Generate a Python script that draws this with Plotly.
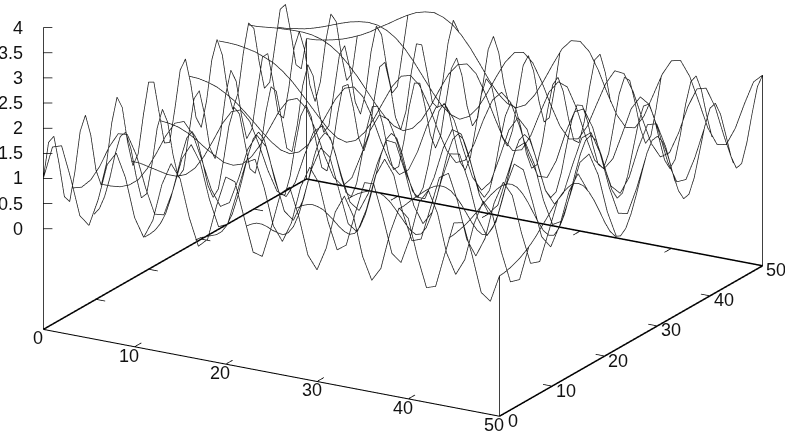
import plotly.graph_objects as go

# Sample positions along each iso-line
SAMPLES = list(range(0, 51))
# Positions of the ten iso-lines on the other axis
ISO = [0, 5.556, 11.11, 16.67, 22.22, 27.78, 33.33, 38.89, 44.44, 50]

line_0 = [1.00,1.66,1.72,1.11,.40,.24,.78,1.52,1.78,1.33,.57,.21,.58,1.33,1.78,1.51,.77,.24,.41,1.12,1.72,1.66,.99,.33,.28,.90,1.60,1.76,1.21,.48,.22,.68,1.44,1.79,1.42,.66,.22,.49,1.23,1.76,1.59,.87,.28,.34,1.01,1.67,1.71,1.10,.39,.25,.79]
line_1 = [.48,.53,.71,1.02,1.43,1.73,1.75,1.37,.76,.27,.29,.81,1.48,1.79,1.47,.77,.26,.35,.99,1.64,1.74,1.21,.49,.21,.62,1.36,1.79,1.51,.78,.25,.38,1.06,1.69,1.70,1.09,.39,.24,.77,1.51,1.78,1.36,.60,.21,.54,1.28,1.77,1.56,.83,.27,.35,1.03]
line_2 = [.22,.22,.24,.31,.45,.71,1.05,1.42,1.71,1.78,1.55,1.06,.53,.23,.34,.86,1.47,1.78,1.59,.98,.38,.23,.64,1.32,1.77,1.62,1.00,.37,.24,.72,1.43,1.79,1.51,.79,.27,.34,.98,1.63,1.75,1.23,.51,.21,.59,1.33,1.78,1.55,.84,.27,.34,.98,1.64]
line_3 = [.35,.34,.30,.26,.22,.22,.29,.45,.72,1.07,1.44,1.71,1.78,1.59,1.17,.68,.30,.23,.55,1.12,1.62,1.78,1.49,.89,.36,.23,.60,1.24,1.73,1.71,1.19,.53,.21,.47,1.13,1.70,1.73,1.21,.52,.21,.52,1.22,1.74,1.66,1.06,.40,.23,.70,1.40,1.79,1.51]
line_4 = [.82,.80,.76,.68,.57,.44,.33,.23,.21,.27,.45,.73,1.09,1.45,1.71,1.78,1.62,1.23,.75,.35,.21,.41,.89,1.42,1.76,1.71,1.28,.68,.27,.27,.72,1.34,1.75,1.69,1.17,.54,.22,.42,1.03,1.62,1.77,1.37,.69,.24,.34,.94,1.58,1.78,1.40,.70,.24]
line_5 = [1.37,1.36,1.32,1.26,1.16,1.04,.88,.71,.53,.37,.25,.21,.28,.46,.76,1.12,1.47,1.72,1.78,1.62,1.26,.79,.39,.21,.34,.74,1.27,1.68,1.78,1.50,.96,.44,.21,.41,.94,1.51,1.79,1.59,1.04,.45,.21,.47,1.07,1.63,1.77,1.40,.75,.27,.30,.83,1.48]
line_6 = [1.74,1.74,1.73,1.70,1.66,1.59,1.51,1.38,1.22,1.02,.81,.60,.40,.26,.21,.28,.48,.78,1.14,1.49,1.73,1.78,1.62,1.26,.81,.42,.22,.30,.66,1.17,1.60,1.79,1.62,1.17,.62,.26,.27,.64,1.22,1.68,1.77,1.43,.83,.34,.23,.59,1.21,1.70,1.75,1.32,.68]
line_7 = [1.73,1.73,1.75,1.77,1.78,1.79,1.79,1.77,1.72,1.63,1.50,1.32,1.11,.87,.63,.42,.27,.21,.29,.49,.80,1.17,1.51,1.73,1.78,1.62,1.26,.83,.43,.23,.28,.60,1.08,1.53,1.77,1.70,1.32,.79,.35,.21,.45,.97,1.51,1.78,1.66,1.17,.59,.23,.31,.79,1.39]
line_8 = [1.35,1.36,1.39,1.42,1.47,1.53,1.60,1.67,1.73,1.77,1.79,1.77,1.70,1.58,1.40,1.17,.91,.65,.42,.27,.21,.30,.51,.83,1.19,1.52,1.74,1.78,1.61,1.26,.83,.45,.23,.27,.56,1.02,1.47,1.76,1.74,1.42,.92,.45,.22,.34,.77,1.32,1.71,1.76,1.42,.86,.37]
line_9 = [.79,.80,.83,.87,.92,.99,1.07,1.17,1.29,1.40,1.52,1.63,1.72,1.77,1.79,1.73,1.62,1.44,1.21,.94,.66,.42,.26,.21,.30,.53,.85,1.21,1.55,1.75,1.77,1.60,1.26,.83,.45,.23,.26,.53,.98,1.43,1.73,1.77,1.49,1.02,.53,.24,.27,.63,1.15,1.62,1.79]
LINES = [line_0, line_1, line_2, line_3, line_4, line_5, line_6, line_7, line_8, line_9]

XY_TICKS = [0, 10, 20, 30, 40, 50]
Z_TICKS = [0, 0.5, 1, 1.5, 2, 2.5, 3, 3.5, 4]
Z_TICK_TEXT = ["0", "0.5", "1", "1.5", "2", "2.5", "3", "3.5", "4"]
XMAX, ZMIN, ZMAX = 50, -2, 4
CURVE = "#1c1c1c"
FRAME = "#000000"
FONT = dict(family="Liberation Sans", size=18, color="#111111")

fig = go.Figure()
def seg(xs, ys, zs, width, color=FRAME):
    fig.add_trace(go.Scatter3d(x=xs, y=ys, z=zs, mode="lines", showlegend=False,
                               hoverinfo="skip", line=dict(color=color, width=width)))

for pos, vals in zip(ISO, LINES):
    seg(SAMPLES, [pos] * len(SAMPLES), vals, 1.5, CURVE)   # along x
    seg([pos] * len(SAMPLES), SAMPLES, vals, 1.5, CURVE)   # along y

# base rectangle
seg([0, XMAX], [0, 0], [ZMIN, ZMIN], 2)
seg([0, XMAX], [XMAX, XMAX], [ZMIN, ZMIN], 3)
seg([0, 0], [0, XMAX], [ZMIN, ZMIN], 3)
seg([XMAX, XMAX], [0, XMAX], [ZMIN, ZMIN], 3)
# verticals up to the surface corners, z axis to the top
seg([0, 0], [0, 0], [ZMIN, ZMAX], 1.5)
seg([XMAX, XMAX], [0, 0], [ZMIN, line_0[-1]], 1.5)
seg([0, 0], [XMAX, XMAX], [ZMIN, line_9[0]], 1.5)
seg([XMAX, XMAX], [XMAX, XMAX], [ZMIN, line_9[-1]], 1.5)
# tick marks
for t in XY_TICKS[1:-1]:
    seg([t, t], [0, 1.3], [ZMIN, ZMIN], 1.5)
    seg([t, t], [XMAX, XMAX - 1.3], [ZMIN, ZMIN], 1.5)
    seg([0, 1], [t, t], [ZMIN, ZMIN], 1.5)
    seg([XMAX, XMAX - 1], [t, t], [ZMIN, ZMIN], 1.5)
for t in Z_TICKS:
    seg([0, 0.75], [0, 0.43], [t, t], 1.5)

# tick labels as real text placed through the scene's own projection
notes = []
for t in XY_TICKS:
    notes.append(dict(x=t, y=0, z=ZMIN, text=str(t), showarrow=False, font=FONT,
                      xshift=-5.5, yshift=-9))
    notes.append(dict(x=XMAX, y=t, z=ZMIN, text=str(t), showarrow=False, font=FONT,
                      xshift=13.5, yshift=-4.5))
for t, label in zip(Z_TICKS, Z_TICK_TEXT):
    notes.append(dict(x=0, y=0, z=t, text=label, showarrow=False, font=FONT,
                      xanchor="right", xshift=-18))

axis = dict(showbackground=False, showgrid=False, zeroline=False, showline=False,
            showspikes=False, ticks="", title=dict(text=""), showticklabels=False)
CX, CY, CZ = 0, 0, -0.340
PAD = 0.02
fig.update_layout(
    width=785, height=432, margin=dict(l=0, r=0, t=0, b=0),
    paper_bgcolor="white", showlegend=False,
    scene=dict(
        domain=dict(x=[0.0268, 1], y=[0, 1]),
        xaxis=dict(axis, range=[-PAD, XMAX + PAD]),
        yaxis=dict(axis, range=[-PAD, XMAX + PAD]),
        zaxis=dict(axis, range=[ZMIN - PAD, ZMAX + PAD]),
        aspectmode="manual", aspectratio=dict(x=2.44, y=2.44, z=1.49),
        annotations=notes,
        camera=dict(projection=dict(type="orthographic"),
                    eye=dict(x=CX + 2.36, y=CY - 4.09, z=CZ + 1.65),
                    center=dict(x=CX, y=CY, z=CZ), up=dict(x=0, y=0, z=1)),
    ),
)
fig.write_html("out.html", config=dict(displayModeBar=False),
               post_script="document.body.style.margin='0';")
